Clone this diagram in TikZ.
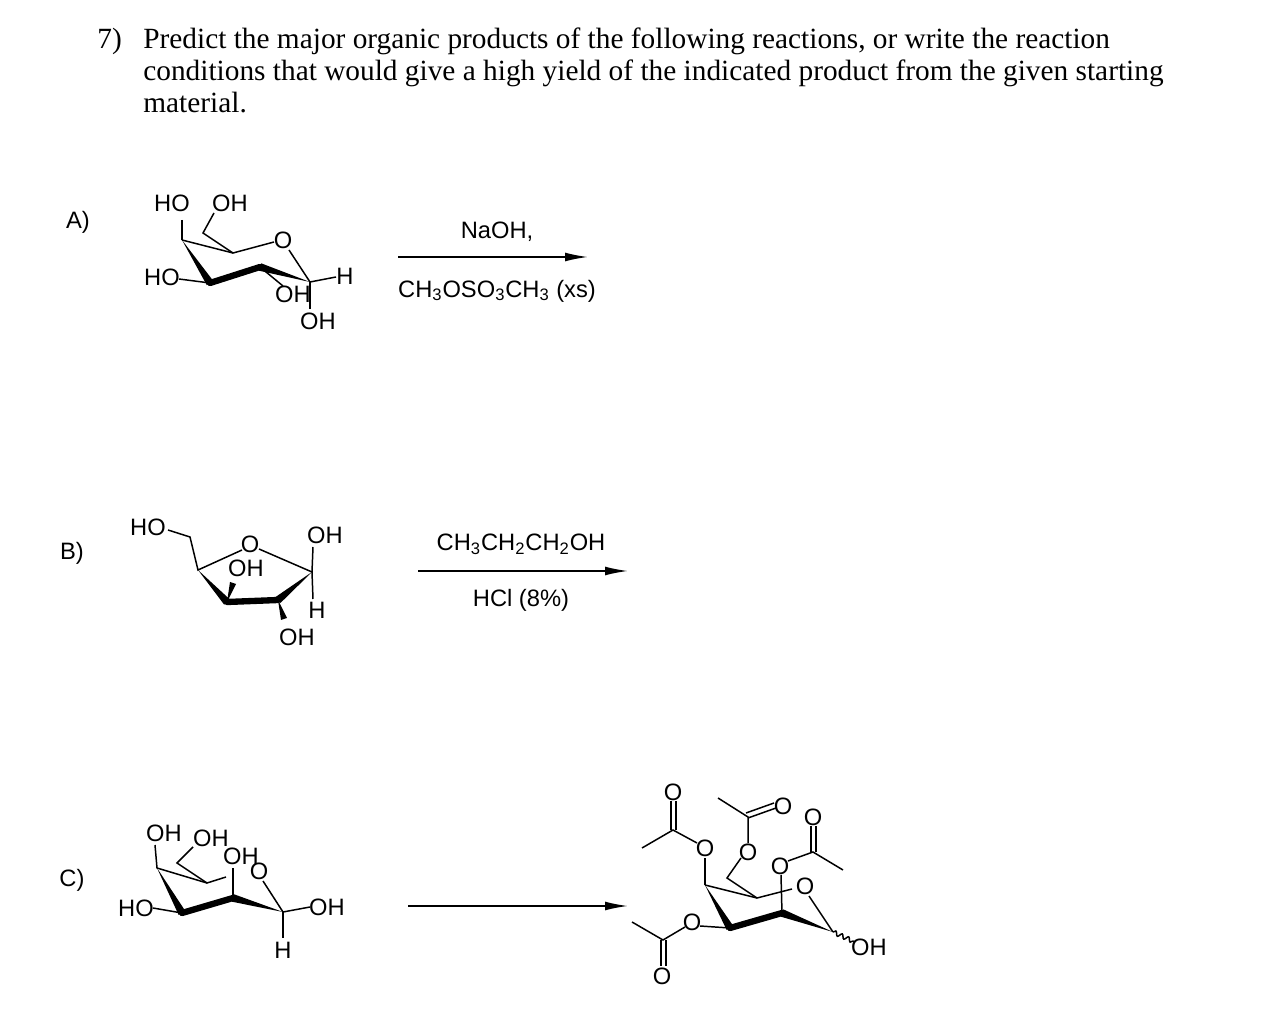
\documentclass[tikz,border=0pt]{standalone}
\usepackage{fontspec}
\setmainfont{Liberation Serif}
\newfontfamily\arial{Liberation Sans}
\usetikzlibrary{calc,decorations.pathmorphing,arrows.meta}
\newcommand\wdg[2]{\fill (#1) -- ($(#2)!2.2pt!90:(#1)$) -- ($(#2)!2.2pt!-90:(#1)$) -- cycle;}
\tikzset{lab/.style={font=\arial\fontsize{13.5}{14}\selectfont,inner sep=0pt},
 cond/.style={font=\arial\fontsize{13.5}{14}\selectfont,inner sep=0pt},
 ttl/.style={anchor=base west,inner sep=0,font=\fontsize{16.7}{18}\selectfont},
 bd/.style={line width=0.85pt},
 bold/.style={line width=3.6pt},
 rx/.style={line width=0.9pt,-{Latex[length=13pt,width=5pt]}}}
\begin{document}
\begin{tikzpicture}[x=0.02cm,y=-0.02cm]
\useasboundingbox (0,0) rectangle (1269,1013);
% title
\node[ttl] (t1) at (97,49) {7)};
\node[ttl] (t2) at (143,49) {Predict the major organic products of the following reactions, or write the reaction};
\node[ttl] (t3) at (143,81) {conditions that would give a high yield of the indicated product from the given starting};
\node[ttl] (t4) at (143,113) {material.};
% labels
\node[cond] (la) at (78,222) {A)};
\node[cond] (lb) at (72,553) {B)};
\node[cond] (lc) at (72,880) {C)};
% ===== A =====
\node[lab] (aho1) at (172,203) {HO};
\node[lab] (aoh1) at (230,203) {OH};
\node[lab] (ao) at (283,240) {O};
\node[lab] (aho2) at (162,277) {HO};
\node[lab] (aoh2) at (293,294) {OH};
\node[lab] (ah) at (345,276) {H};
\node[lab] (aoh3) at (318,321) {OH};
\coordinate (a4) at (182,240); \coordinate (a5) at (233,253); \coordinate (a6) at (203,233);
\coordinate (a3) at (210,283); \coordinate (a2) at (260,267); \coordinate (a1) at (310,282);
\draw[bd] (182,220) -- (a4);
\draw[bd] (214,213) -- (a6) -- (a5) -- (274,242);
\draw[bd] (289,250) -- (a1);
\draw[bd] (179,279) -- (a3);
\draw[bd] (a2) -- (283,286);
\draw[bd] (a1) -- (336,277);
\draw[bd] (a1) -- (310,309);
\draw[bd] (a4) -- (a5);
\wdg{a4}{a3}
\draw[bold,line cap=round] (a3) -- (a2);
\wdg{a1}{a2}
\draw[rx] (398,257) -- (588,257);
\node[cond] (ca1) at (497,232) {NaOH,};
\node[cond] (ca2) at (497,291) {CH\textsubscript{3}OSO\textsubscript{3}CH\textsubscript{3} (xs)};
% ===== B =====
\node[lab] (bho) at (148,527) {HO};
\node[lab] (bo) at (250,544) {O};
\node[lab] (boh1) at (325,535) {OH};
\node[lab] (boh2) at (246,568) {OH};
\node[lab] (bh) at (317,610) {H};
\node[lab] (boh3) at (297,637) {OH};
\coordinate (b4) at (198,570); \coordinate (b3) at (227,602); \coordinate (b2) at (278,600); \coordinate (b1) at (312,572);
\draw[bd] (168,530) -- (190,537) -- (b4) -- (242,550);
\draw[bd] (259,549) -- (b1);
\draw[bd] (b1) -- (313,547);
\draw[bd] (b1) -- (313,599);
\wdg{b4}{b3}
\draw[bold,line cap=round] (b3) -- (b2);
\wdg{b1}{b2}
\fill (b3) -- (230,582) -- (236,584) -- cycle;
\fill (b2) -- (281,620) -- (287,618) -- cycle;
\draw[rx] (418,571) -- (628,571);
\node[cond] (cb1) at (521,544) {CH\textsubscript{3}CH\textsubscript{2}CH\textsubscript{2}OH};
\node[cond] (cb2) at (521,600) {HCl (8\%)};
% ===== C =====
\node[lab] (coh1) at (164,833) {OH};
\node[lab] (coh2) at (211,838) {OH};
\node[lab] (coh3) at (241,856) {OH};
\node[lab] (co) at (259,871) {O};
\node[lab] (cho) at (136,908) {HO};
\node[lab] (coh4) at (327,907) {OH};
\node[lab] (ch) at (283,950) {H};
\coordinate (c4) at (157,868); \coordinate (c5) at (207,883); \coordinate (c3) at (182,913); \coordinate (c2) at (233,898); \coordinate (c1) at (283,912);
\draw[bd] (155,845) -- (c4) -- (c5);
\draw[bd] (193,847) -- (177,863) -- (c5) -- (226,877);
\draw[bd] (c2) -- (233,868);
\draw[bd] (263,881) -- (c1) -- (310,907);
\draw[bd] (c1) -- (283,938);
\draw[bd] (153,908) -- (c3);
\wdg{c4}{c3}
\draw[bold,line cap=round] (c3) -- (c2);
\wdg{c1}{c2}
\draw[rx] (408,906) -- (628,906);
% ===== product =====
\node[lab] (po1) at (705,848) {O};
\node[lab] (po1d) at (673,792) {O};
\node[lab] (po2) at (748,852) {O};
\node[lab] (po2d) at (783,806) {O};
\node[lab] (po3) at (780,866) {O};
\node[lab] (po3d) at (813,817) {O};
\node[lab] (pro) at (805,886) {O};
\node[lab] (po4) at (692,922) {O};
\node[lab] (po4d) at (662,976) {O};
\node[lab] (poh) at (869,947) {OH};
\coordinate (p4) at (705,885); \coordinate (p5) at (757,898); \coordinate (p3) at (730,928); \coordinate (p2) at (782,913); \coordinate (p1) at (833,932);
\coordinate (pc1) at (673,830); \coordinate (pm1) at (642,848);
\coordinate (pc2) at (748,817); \coordinate (pm2) at (718,798); \coordinate (pch) at (727,878);
\coordinate (pc3) at (813,852); \coordinate (pm3) at (843,870);
\coordinate (pc4) at (663,940); \coordinate (pm4) at (632,922);
\draw[bd] (p4) -- (p5) -- (792,889);
\draw[bd] (p4) -- (705,858);
\draw[bd] (697,843) -- (pc1) -- (pm1);
\draw[bd] (671,830) -- (671,801); \draw[bd] (676,830) -- (676,801);
\draw[bd] (p5) -- (pch) -- (741,858);
\draw[bd] (748,843) -- (pc2) -- (pm2);
\draw[bd] (748,818) -- (776,808); \draw[bd] (746,813) -- (774,803);
\draw[bd] (p2) -- (781,875);
\draw[bd] (788,861) -- (pc3) -- (pm3);
\draw[bd] (811,852) -- (811,826); \draw[bd] (816,852) -- (816,826);
\draw[bd] (809,896) -- (p1);
\draw[bd] (p3) -- (700,926);
\draw[bd] (685,927) -- (pc4) -- (pm4);
\draw[bd] (661,940) -- (661,966); \draw[bd] (666,940) -- (666,966);
\draw[bd,decorate,decoration={snake,amplitude=1.2pt,segment length=4pt}] (p1) -- (855,942);
\wdg{p4}{p3}
\draw[bold,line cap=round] (p3) -- (p2);
\wdg{p1}{p2}
\end{tikzpicture}
\end{document}
